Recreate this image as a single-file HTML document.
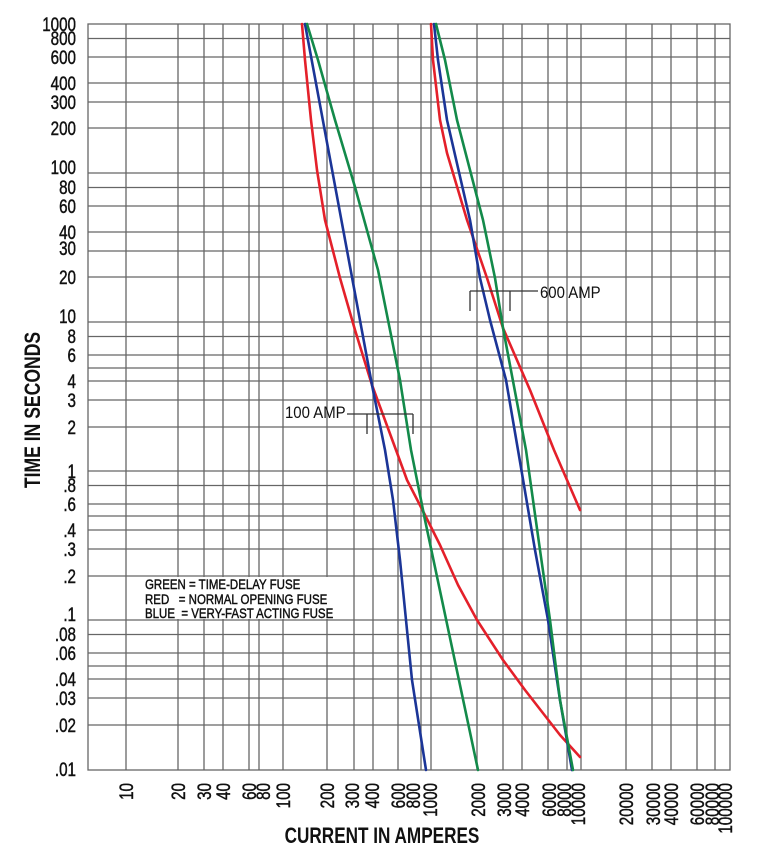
<!DOCTYPE html>
<html><head><meta charset="utf-8"><style>
html,body{margin:0;padding:0;background:#fff;}
svg{display:block;}
text{font-family:"Liberation Sans",sans-serif;fill:#111;}
.t{stroke:#111;stroke-width:0.45;}
</style></head><body>
<svg width="780" height="868" viewBox="0 0 780 868" xmlns="http://www.w3.org/2000/svg">
<g stroke="#666" stroke-width="1.3" fill="none">
<path d="M88 38.5H730M88 57H730M88 83H730M88 102H730M88 128H730M88 173H730M88 187.5H730M88 206H730M88 232H730M88 251H730M88 277H730M88 322H730M88 336.5H730M88 355H730M88 368H730M88 381H730M88 400H730M88 427H730M88 471H730M88 485.5H730M88 504H730M88 516H730M88 530H730M88 549H730M88 576H730M88 620H730M88 634.5H730M88 653H730M88 666H730M88 679H730M88 698H730M88 725H730"/>
<path d="M126 24V770M178 24V770M204 24V770M223 24V770M249 24V770M259 24V770M283 24V770M327 24V770M354 24V770M373 24V770M398 24V770M421 24V770M431 24V770M477 24V770M503 24V770M522 24V770M548 24V770M567 24V770M581 24V770M626 24V770M652 24V770M671 24V770M697 24V770M715 24V770"/>
<rect x="88" y="24" width="642" height="746"/>
</g>
<rect x="140" y="577" width="212" height="42" fill="#fff"/>
<g fill="none" stroke-width="2.6" stroke-linejoin="round" stroke-linecap="round">
<polyline stroke="#e4202a" points="302,24 305,60 311,120 317,170 325,220 340,278 355,330 372,385 396,450 407,480 425,515 440,545 458,585 477,620 503,660 525,690 560,735 580,757"/>
<polyline stroke="#1b3597" points="305,24 372,385 385,450 393,500 400,560 412,680 426,770"/>
<polyline stroke="#138a4a" points="307,24 318,60 335,120 355,187 378,270 400,380 411,450 425,520 478,770"/>
<polyline stroke="#e4202a" points="431,24 433,60 440,120 447,153 467,220 487,278 503,328 530,390 554,450 580,510"/>
<polyline stroke="#1b3597" points="434,24 438,60 447,120 470,220 480,278 490,320 506,380 518,450 535,550 548,620 560,700 572,770"/>
<polyline stroke="#138a4a" points="436,24 445,60 457,120 483,220 495,278 503,328 526,450 540,550 550,620 560,700 573,770"/>
</g>
<g stroke="#333" stroke-width="1.3" fill="none">
<path d="M347 414H413M367 414V434M413 414V434"/>
<path d="M470 291H538M470 291V311M510 291V311"/>
</g>
<text x="285" y="418" font-size="17" transform="translate(285 0) scale(0.88 1) translate(-285 0)">100 AMP</text>
<text x="540" y="298" font-size="17" transform="translate(540 0) scale(0.88 1) translate(-540 0)">600 AMP</text>
<g font-size="14" class="t" transform="translate(145 0) scale(0.82 1) translate(-145 0)">
<text x="145" y="589">GREEN = TIME-DELAY FUSE</text>
<text x="145" y="604">RED &#160;&#160;= NORMAL OPENING FUSE</text>
<text x="145" y="618">BLUE &#160;= VERY-FAST ACTING FUSE</text>
</g>
<g font-size="19" class="t" text-anchor="end" transform="translate(76 0) scale(0.8 1) translate(-76 0)">
<text x="76" y="31">1000</text><text x="76" y="45">800</text><text x="76" y="64">600</text>
<text x="76" y="90">400</text><text x="76" y="109">300</text><text x="76" y="135">200</text>
<text x="76" y="174">100</text><text x="76" y="194">80</text><text x="76" y="213">60</text>
<text x="76" y="239">40</text><text x="76" y="255">30</text><text x="76" y="284">20</text>
<text x="76" y="323">10</text><text x="76" y="343">8</text><text x="76" y="362">6</text>
<text x="76" y="388">4</text><text x="76" y="407">3</text><text x="76" y="434">2</text>
<text x="76" y="478">1</text><text x="76" y="492">.8</text><text x="76" y="511">.6</text>
<text x="76" y="537">.4</text><text x="76" y="556">.3</text><text x="76" y="583">.2</text>
<text x="76" y="621">.1</text><text x="76" y="641">.08</text><text x="76" y="660">.06</text>
<text x="76" y="686">.04</text><text x="76" y="705">.03</text><text x="76" y="732">.02</text>
<text x="76" y="776">.01</text>
</g>
<g font-size="19" class="t" text-anchor="end">
<text transform="translate(133 783) rotate(-90) scale(0.8 1)">10</text>
<text transform="translate(185 783) rotate(-90) scale(0.8 1)">20</text>
<text transform="translate(211 783) rotate(-90) scale(0.8 1)">30</text>
<text transform="translate(230 783) rotate(-90) scale(0.8 1)">40</text>
<text transform="translate(256 783) rotate(-90) scale(0.8 1)">60</text>
<text transform="translate(270 783) rotate(-90) scale(0.8 1)">80</text>
<text transform="translate(290 783) rotate(-90) scale(0.8 1)">100</text>
<text transform="translate(334 783) rotate(-90) scale(0.8 1)">200</text>
<text transform="translate(359 783) rotate(-90) scale(0.8 1)">300</text>
<text transform="translate(379 783) rotate(-90) scale(0.8 1)">400</text>
<text transform="translate(405 783) rotate(-90) scale(0.8 1)">600</text>
<text transform="translate(420 783) rotate(-90) scale(0.8 1)">800</text>
<text transform="translate(437 783) rotate(-90) scale(0.8 1)">1000</text>
<text transform="translate(485 783) rotate(-90) scale(0.8 1)">2000</text>
<text transform="translate(511 783) rotate(-90) scale(0.8 1)">3000</text>
<text transform="translate(529 783) rotate(-90) scale(0.8 1)">4000</text>
<text transform="translate(556 783) rotate(-90) scale(0.8 1)">6000</text>
<text transform="translate(571 783) rotate(-90) scale(0.8 1)">8000</text>
<text transform="translate(585 783) rotate(-90) scale(0.8 1)">10000</text>
<text transform="translate(633 783) rotate(-90) scale(0.8 1)">20000</text>
<text transform="translate(660 783) rotate(-90) scale(0.8 1)">30000</text>
<text transform="translate(678 783) rotate(-90) scale(0.8 1)">40000</text>
<text transform="translate(704 783) rotate(-90) scale(0.8 1)">60000</text>
<text transform="translate(719 783) rotate(-90) scale(0.8 1)">80000</text>
<text transform="translate(732 783) rotate(-90) scale(0.8 1)">100000</text>
</g>
<text transform="translate(40 410) rotate(-90) scale(0.8 1)" text-anchor="middle" font-size="22" font-weight="bold">TIME IN SECONDS</text>
<text transform="translate(382 843) scale(0.78 1)" text-anchor="middle" font-size="22" font-weight="bold">CURRENT IN AMPERES</text>
</svg>
</body></html>
